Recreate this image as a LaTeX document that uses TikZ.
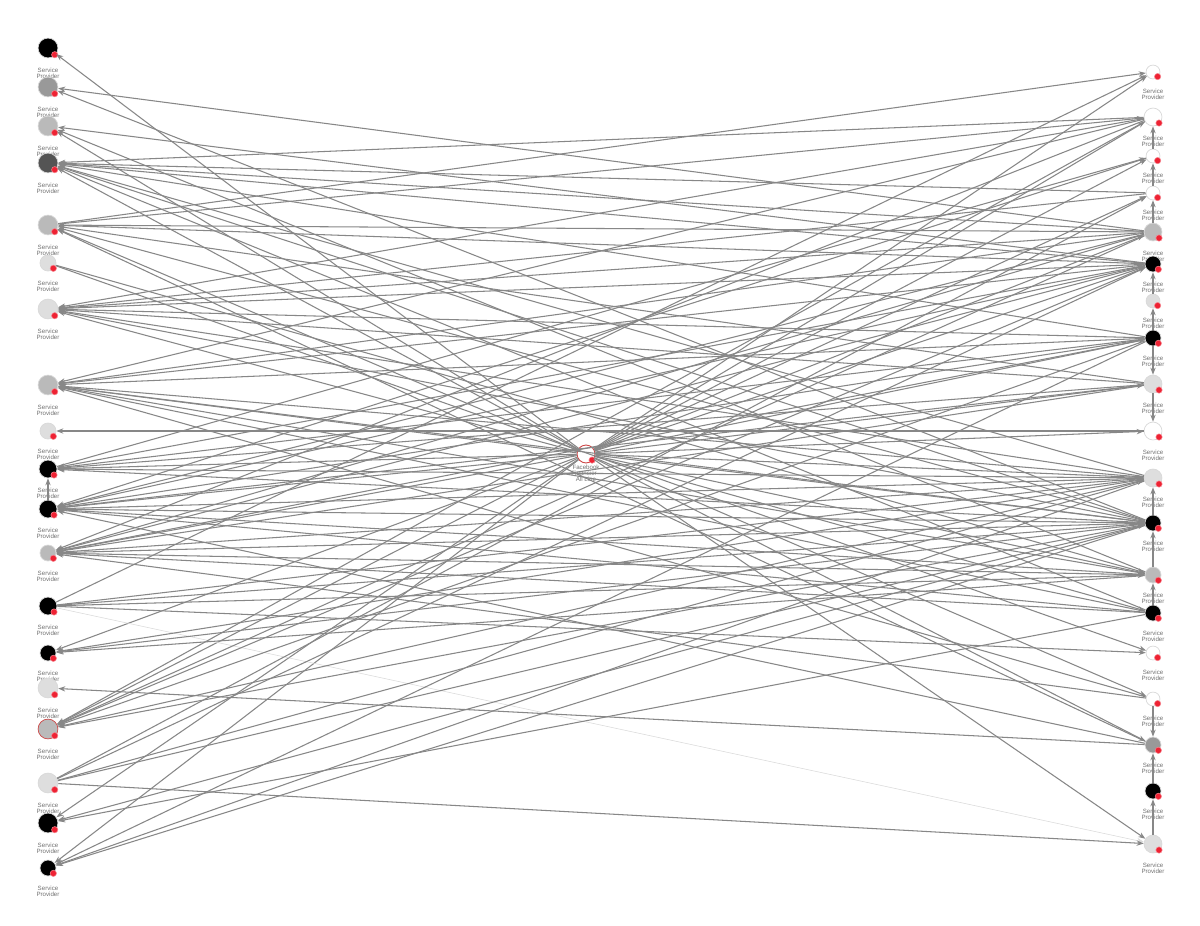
\documentclass[tikz,border=0pt]{standalone}
\usepackage{fontspec}
\setmainfont{Liberation Sans}
\usetikzlibrary{arrows.meta}
\definecolor{dotred}{RGB}{238,34,51}
\definecolor{ringred}{RGB}{205,70,70}

\begin{document}
\begin{tikzpicture}[x=0.02cm,y=-0.02cm]
  \path[use as bounding box,fill=white] (0,0) rectangle (1200,926);
  \begin{scope}[sp/.style={circle,draw=black!15,line width=0.4pt,inner sep=0pt,minimum size=#1,
                  label={[reddot]-45:{}},label={[splabel]below:{Service\\Provider}}},
                reddot/.style={circle,fill=dotred,draw=dotred!55,line width=0.3pt,inner sep=0pt,
                  minimum size=3.6pt,label distance=-2.4pt},
                splabel/.style={align=center,font=\fontsize{3.5}{3.2}\selectfont,text=black!55,
                  inner sep=0.5pt,label distance=5pt}]
    % left column
    \node[sp=11.3pt,fill=black] (l1) at (48,48) {};
    \node[sp=11.3pt,fill=black!40] (l2) at (48,87) {};
    \node[sp=11.3pt,fill=black!27] (l3) at (48,126) {};
    \node[sp=11.3pt,fill=black!67] (l4) at (48,163) {};
    \node[sp=11.3pt,fill=black!27] (l5) at (48,225) {};
    \node[sp=9.1pt,fill=black!13] (l6) at (48,263) {};
    \node[sp=11.3pt,fill=black!13] (l7) at (48,309) {};
    \node[sp=11.3pt,fill=black!27] (l8) at (48,385) {};
    \node[sp=9.1pt,fill=black!13] (l9) at (48,431) {};
    \node[sp=10.2pt,fill=black] (l10) at (48,469) {};
    \node[sp=10.2pt,fill=black] (l11) at (48,509) {};
    \node[sp=9.1pt,fill=black!27] (l12) at (48,553) {};
    \node[sp=10.2pt,fill=black] (l13) at (48,606) {};
    \node[sp=9.1pt,fill=black] (l14) at (48,653) {};
    \node[sp=11.3pt,fill=black!13] (l15) at (48,688) {};
    \node[sp=11.3pt,fill=black!27,draw=ringred] (l16) at (48,729) {};
    \node[sp=11.3pt,fill=black!13] (l17) at (48,783) {};
    \node[sp=11.3pt,fill=black] (l18) at (48,823) {};
    \node[sp=9.1pt,fill=black] (l19) at (48,868) {};
    % right column
    \node[sp=7.9pt,fill=white] (r1) at (1153,72) {};
    \node[sp=10.2pt,fill=white] (r2) at (1153,117) {};
    \node[sp=7.9pt,fill=white] (r3) at (1153,156) {};
    \node[sp=7.9pt,fill=white] (r4) at (1153,193) {};
    \node[sp=10.2pt,fill=black!27] (r5) at (1153,232) {};
    \node[sp=9.1pt,fill=black] (r6) at (1153,264) {};
    \node[sp=7.9pt,fill=black!13] (r7) at (1153,301) {};
    \node[sp=9.1pt,fill=black] (r8) at (1153,338) {};
    \node[sp=10.2pt,fill=black!13] (r9) at (1153,384) {};
    \node[sp=10.2pt,fill=white] (r10) at (1153,431) {};
    \node[sp=10.2pt,fill=black!13] (r11) at (1153,478) {};
    \node[sp=9.1pt,fill=black] (r12) at (1153,523) {};
    \node[sp=9.1pt,fill=black!27] (r13) at (1153,575) {};
    \node[sp=9.1pt,fill=black] (r14) at (1153,613) {};
    \node[sp=7.9pt,fill=white] (r15) at (1153,653) {};
    \node[sp=7.9pt,fill=white] (r16) at (1153,699) {};
    \node[sp=9.1pt,fill=black!40] (r17) at (1153,745) {};
    \node[sp=9.1pt,fill=black] (r18) at (1153,791) {};
    \node[sp=10.2pt,fill=black!13] (r19) at (1153,844) {};
    % financier
    \node[circle,draw=ringred,fill=white,line width=0.5pt,inner sep=0pt,minimum size=10.2pt,
      label={[reddot]-45:{}},
      label={[splabel,label distance=0.5pt]below:{Facebook\\Financier -\\All Line}}] (c) at (586,454) {};
  \end{scope}
  \begin{scope}[every edge/.style={draw=black!47,line width=0.6pt,-{Stealth[length=4pt,width=3pt]}}]
    % financier links
    \path (c) edge (l1);
    \path (c) edge (l3);
    \path (c) edge (l4);
    \path (c) edge (l5);
    \path (c) edge (l7);
    \path (c) edge (l8);
    \path (c) edge (l10);
    \path (c) edge (l11);
    \path (c) edge (l12);
    \path (c) edge (l14);
    \path (c) edge (l16);
    \path (c) edge (l18);
    \path (c) edge (l19);
    \path (c) edge (r1);
    \path (c) edge (r2);
    \path (c) edge (r3);
    \path (c) edge (r4);
    \path (c) edge (r5);
    \path (c) edge (r6);
    \path (c) edge (r8);
    \path (c) edge (r9);
    \path (c) edge (r10);
    \path (c) edge (r11);
    \path (c) edge (r12);
    \path (c) edge (r13);
    \path (c) edge (r14);
    \path (c) edge (r16);
    \path (c) edge (r17);
    \path (c) edge (r19);
    % across
    \path (r5) edge (l2);
    \path (r12) edge (l2);
    \path (r6) edge (l3);
    \path (r13) edge (l3);
    \path (r2) edge (l4);
    \path (r4) edge (l4);
    \path (r5) edge (l4);
    \path (r6) edge (l4);
    \path (r8) edge (l4);
    \path (r11) edge (l4);
    \path (r12) edge (l4);
    \path (r14) edge (l4);
    \path (l5) edge (r1);
    \path (l5) edge (r2);
    \path (r5) edge (l5);
    \path (r6) edge (l5);
    \path (r9) edge (l5);
    \path (r12) edge (l5);
    \path (r17) edge (l5);
    \path (l6) edge (r13);
    \path (l6) edge (r15);
    \path (r2) edge (l7);
    \path (r4) edge (l7);
    \path (r5) edge (l7);
    \path (r6) edge (l7);
    \path (r8) edge (l7);
    \path (r9) edge (l7);
    \path (r11) edge (l7);
    \path (r12) edge (l7);
    \path (r2) edge (l8);
    \path (r5) edge (l8);
    \path (r6) edge (l8);
    \path (r8) edge (l8);
    \path (r11) edge (l8);
    \path (r12) edge (l8);
    \path (r13) edge (l8);
    \path (r14) edge (l8);
    \path (r16) edge (l8);
    \path (r10) edge (l9);
    \path (l10) edge (r3);
    \path (r6) edge (l10);
    \path (r8) edge (l10);
    \path (r9) edge (l10);
    \path (r11) edge (l10);
    \path (r12) edge (l10);
    \path (r3) edge (l11);
    \path (r5) edge (l11);
    \path (r6) edge (l11);
    \path (r8) edge (l11);
    \path (r9) edge (l11);
    \path (r11) edge (l11);
    \path (r12) edge (l11);
    \path (r13) edge (l11);
    \path (r14) edge (l11);
    \path (r17) edge (l11);
    \path (r2) edge (l12);
    \path (r5) edge (l12);
    \path (r6) edge (l12);
    \path (r8) edge (l12);
    \path (r9) edge (l12);
    \path (r11) edge (l12);
    \path (r12) edge (l12);
    \path (r13) edge (l12);
    \path (r14) edge (l12);
    \path (r16) edge (l12);
    \path (l13) edge (r1);
    \path (l13) edge (r11);
    \path (l13) edge (r12);
    \path (l13) edge (r13);
    \path (l13) edge (r15);
    \path (l13) edge[draw=black!15,line width=0.3pt] (r19);
    \path (r11) edge (l14);
    \path (r12) edge (l14);
    \path (r13) edge (l14);
    \path (r17) edge (l15);
    \path (r2) edge (l16);
    \path (r5) edge (l16);
    \path (r6) edge (l16);
    \path (r8) edge (l16);
    \path (r11) edge (l16);
    \path (r12) edge (l16);
    \path (l17) edge (r4);
    \path (l17) edge (r6);
    \path (l17) edge (r11);
    \path (l17) edge (r12);
    \path (l17) edge (r19);
    \path (r12) edge (l18);
    \path (r14) edge (l18);
    \path (r8) edge (l19);
    \path (r11) edge (l19);
    \path (r12) edge (l19);
    % along the columns
    \path (l11) edge (l10);
    \path (r3) edge (r2);
    \path (r4) edge (r3);
    \path (r5) edge (r4);
    \path (r7) edge (r6);
    \path (r8) edge (r7);
    \path (r8) edge (r9);
    \path (r9) edge (r10);
    \path (r12) edge (r11);
    \path (r13) edge (r12);
    \path (r14) edge (r13);
    \path (r16) edge (r17);
    \path (r18) edge (r17);
    \path (r19) edge (r18);
  \end{scope}
\end{tikzpicture}
\end{document}
